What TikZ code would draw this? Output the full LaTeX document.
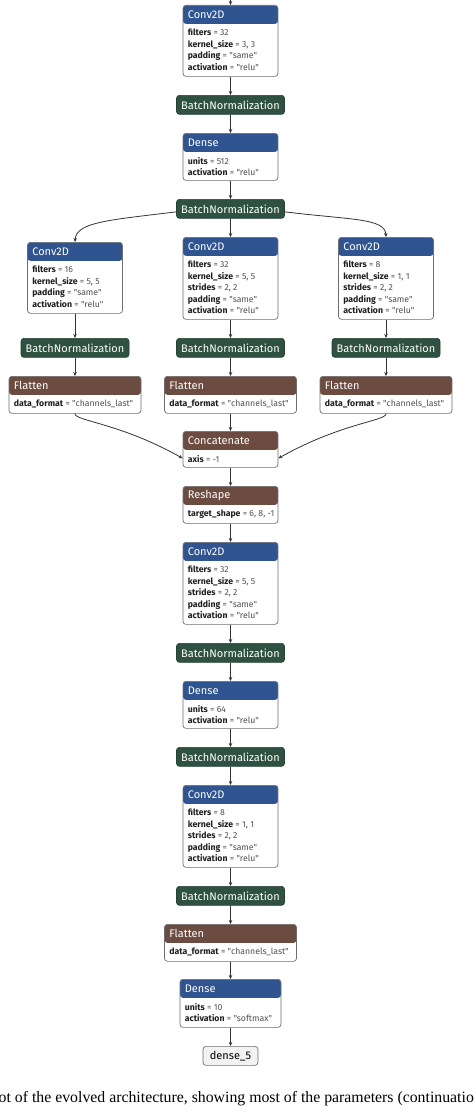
\documentclass[tikz,border=0pt]{standalone}
\usepackage{fontspec}
\setmainfont{Liberation Serif}
\newfontfamily\lf{Fira Sans}
\usetikzlibrary{arrows.meta}
\definecolor{hblue}{HTML}{30548F}
\definecolor{hgreen}{HTML}{2E5141}
\definecolor{hbrown}{HTML}{6C4B40}
\definecolor{bord}{HTML}{6E6E6E}
\definecolor{keyc}{HTML}{1E1E1E}
\definecolor{valc}{HTML}{505050}
\definecolor{edgec}{HTML}{333333}
\newcommand\kv[2]{{\bfseries\color{keyc}#1}\ {\color{valc}=\ #2}}
\tikzset{
 layerbox/.style={draw=bord, line width=0.7pt, rounded corners=3pt, fill=white, inner sep=0pt, anchor=north},
 hdrfill/.style={path picture={\fill[#1] (path picture bounding box.north west) rectangle ([yshift=-18.5pt]path picture bounding box.north east);}},
 ttl/.style={text=white, font=\lf\fontsize{11}{12}\selectfont, anchor=west, inner sep=0pt},
 bodytxt/.style={font=\lf\fontsize{8.7}{11.5}\selectfont, align=left, anchor=north west, inner sep=0pt},
 bnbox/.style={fill=hgreen, draw=hgreen!80!black, line width=0.7pt, rounded corners=3pt, text=white, font=\lf\fontsize{11}{12}\selectfont, minimum width=108pt, minimum height=19pt, inner sep=0pt, anchor=north},
 outbox/.style={fill=gray!10, draw=bord, line width=0.7pt, rounded corners=3pt, text=black, font=\lf\fontsize{11}{12}\selectfont, minimum width=55pt, minimum height=19pt, inner sep=0pt, anchor=north},
 edge/.style={draw=edgec, line width=0.8pt, -{Stealth[length=4pt,width=3.5pt]}},
}
\newcommand\layer[8]{%
 \node[layerbox, hdrfill=#6, minimum width=#4pt, minimum height=#5pt] (#1) at (#2,#3) {};
 \node[ttl] at ([xshift=5pt,yshift=-9.5pt]#1.north west) {#7};
 \node[bodytxt] at ([xshift=5pt,yshift=-24pt]#1.north west) {#8};
}
\begin{document}
\begin{tikzpicture}[x=1pt,y=-1pt]
\useasboundingbox (0,0) rectangle (474,1116);
\coordinate (in) at (230.5,-1);
\layer{c1}{230.5}{5}{95}{71}{hblue}{Conv2D}{\kv{filters}{32}\\\kv{kernel\_size}{3, 3}\\\kv{padding}{"same"}\\\kv{activation}{"relu"}}
\node[bnbox] (bn1) at (230.5,95) {BatchNormalization};
\layer{d1}{230.5}{133}{95}{47}{hblue}{Dense}{\kv{units}{512}\\\kv{activation}{"relu"}}
\node[bnbox] (bn2) at (230.5,199) {BatchNormalization};
% branches
\layer{lc}{75}{242}{95}{71}{hblue}{Conv2D}{\kv{filters}{16}\\\kv{kernel\_size}{5, 5}\\\kv{padding}{"same"}\\\kv{activation}{"relu"}}
\layer{mc}{230.5}{237}{95}{82}{hblue}{Conv2D}{\kv{filters}{32}\\\kv{kernel\_size}{5, 5}\\\kv{strides}{2, 2}\\\kv{padding}{"same"}\\\kv{activation}{"relu"}}
\layer{rc}{386}{237}{95}{82}{hblue}{Conv2D}{\kv{filters}{8}\\\kv{kernel\_size}{1, 1}\\\kv{strides}{2, 2}\\\kv{padding}{"same"}\\\kv{activation}{"relu"}}
\node[bnbox] (lbn) at (75,338) {BatchNormalization};
\node[bnbox] (mbn) at (230.5,338) {BatchNormalization};
\node[bnbox] (rbn) at (386,338) {BatchNormalization};
\layer{lf}{75}{376}{132}{37}{hbrown}{Flatten}{\kv{data\_format}{"channels\_last"}}
\layer{mf}{230.5}{376}{132}{37}{hbrown}{Flatten}{\kv{data\_format}{"channels\_last"}}
\layer{rf}{386}{376}{132}{37}{hbrown}{Flatten}{\kv{data\_format}{"channels\_last"}}
\layer{cc}{230.5}{431}{95}{36}{hbrown}{Concatenate}{\kv{axis}{-1}}
\layer{rs}{230.5}{486}{95}{37}{hbrown}{Reshape}{\kv{target\_shape}{6, 8, -1}}
\layer{c3}{230.5}{542}{95}{82}{hblue}{Conv2D}{\kv{filters}{32}\\\kv{kernel\_size}{5, 5}\\\kv{strides}{2, 2}\\\kv{padding}{"same"}\\\kv{activation}{"relu"}}
\node[bnbox] (bn3) at (230.5,643) {BatchNormalization};
\layer{d2}{230.5}{681}{95}{47}{hblue}{Dense}{\kv{units}{64}\\\kv{activation}{"relu"}}
\node[bnbox] (bn4) at (230.5,747) {BatchNormalization};
\layer{c4}{230.5}{785}{95}{82}{hblue}{Conv2D}{\kv{filters}{8}\\\kv{kernel\_size}{1, 1}\\\kv{strides}{2, 2}\\\kv{padding}{"same"}\\\kv{activation}{"relu"}}
\node[bnbox] (bn5) at (230.5,886) {BatchNormalization};
\layer{fl4}{230.5}{924}{132}{37}{hbrown}{Flatten}{\kv{data\_format}{"channels\_last"}}
\layer{d3}{230.5}{979}{101}{48}{hblue}{Dense}{\kv{units}{10}\\\kv{activation}{"softmax"}}
\node[outbox] (out) at (230.5,1046) {dense\_5};
\node[anchor=base west, inner sep=0pt, font=\fontsize{15.8}{18}\selectfont] (cap) at (-1.5,1102) {ot of the evolved architecture, showing most of the parameters (continuatio};
% edges
\draw[edge] (in) -- (c1);
\draw[edge] (c1) -- (bn1);
\draw[edge] (bn1) -- (d1);
\draw[edge] (d1) -- (bn2);
\draw[edge] ([yshift=-3pt]bn2.west) .. controls (110,220) and (76,222) .. (lc.north);
\draw[edge] (bn2) -- (mc);
\draw[edge] ([yshift=-3pt]bn2.east) .. controls (351,220) and (385,218) .. (rc.north);
\draw[edge] (lc) -- (lbn);
\draw[edge] (mc) -- (mbn);
\draw[edge] (rc) -- (rbn);
\draw[edge] (lbn) -- (lf);
\draw[edge] (mbn) -- (mf);
\draw[edge] (rbn) -- (rf);
\draw[edge] (lf.south) .. controls (75,421) and (120,423) .. ([yshift=-9pt]cc.west);
\draw[edge] (mf) -- (cc);
\draw[edge] (rf.south) .. controls (386,421) and (341,423) .. ([yshift=-9pt]cc.east);
\draw[edge] (cc) -- (rs);
\draw[edge] (rs) -- (c3);
\draw[edge] (c3) -- (bn3);
\draw[edge] (bn3) -- (d2);
\draw[edge] (d2) -- (bn4);
\draw[edge] (bn4) -- (c4);
\draw[edge] (c4) -- (bn5);
\draw[edge] (bn5) -- (fl4);
\draw[edge] (fl4) -- (d3);
\draw[edge] (d3) -- (out);
\end{tikzpicture}
\end{document}
